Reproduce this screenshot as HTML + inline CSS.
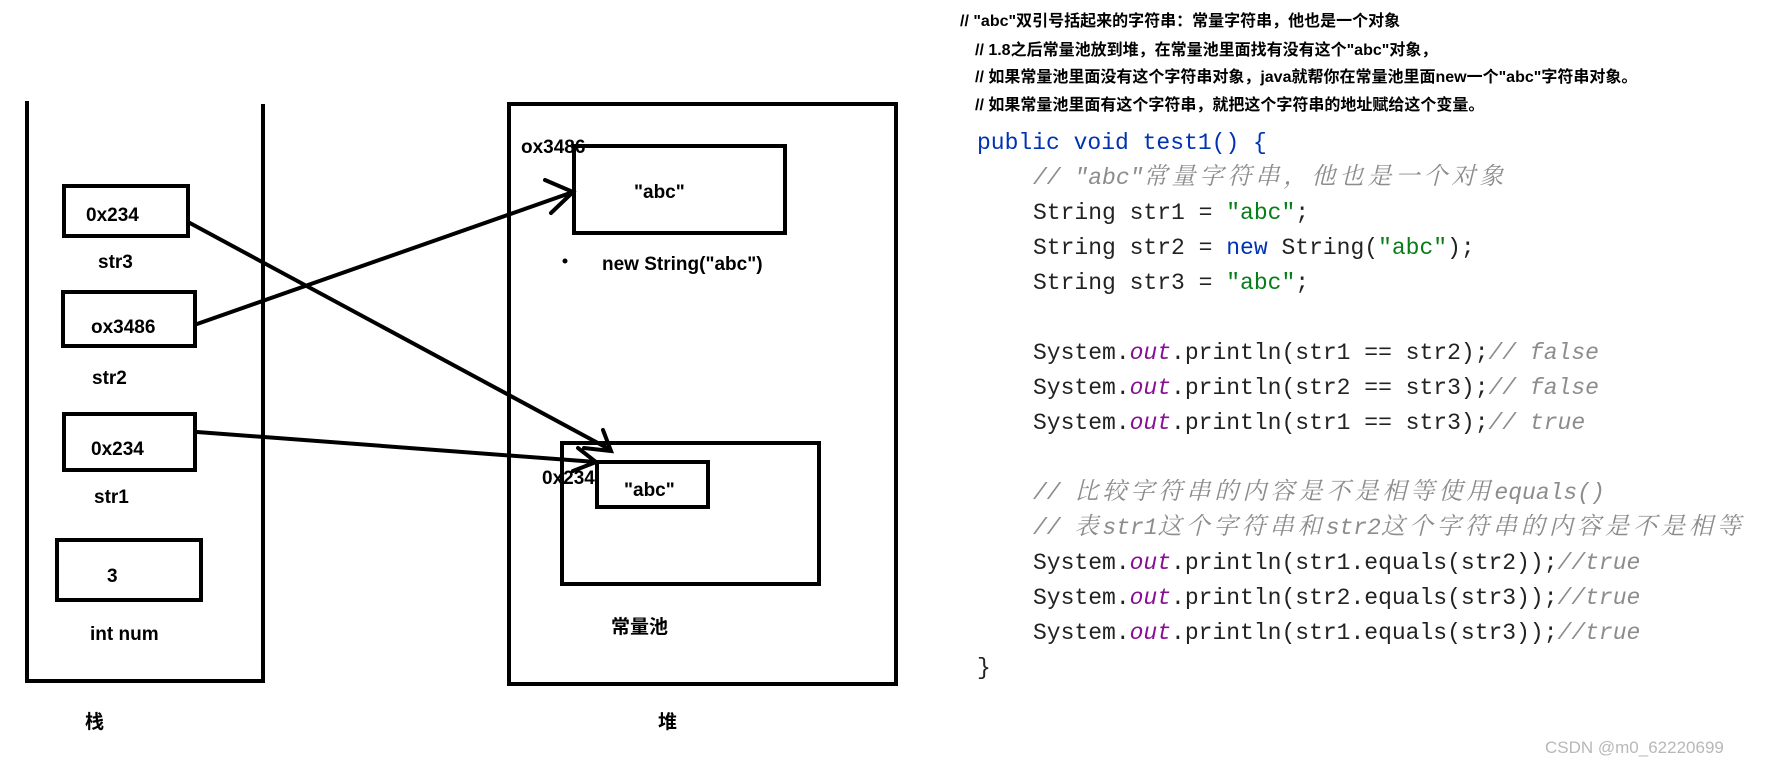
<!DOCTYPE html>
<html><head><meta charset="utf-8"><style>
html,body{margin:0;padding:0;background:#fff;}
body{width:1766px;height:763px;overflow:hidden;position:relative;}
svg{position:absolute;left:0;top:0;}
.lb{font-family:"Liberation Sans","Noto Sans CJK SC",sans-serif;font-weight:bold;font-size:19px;fill:#000;}
.cm{font-family:"Liberation Sans","Noto Sans CJK SC",sans-serif;font-weight:bold;font-size:16px;fill:#000;}
.code{font-family:"Liberation Mono","Noto Serif CJK SC",monospace;font-size:23px;fill:#222;white-space:pre;}
.kw{fill:#0033b3;} .st{fill:#067d17;} .g{fill:#8c8c8c;font-style:italic;} .o{fill:#871094;font-style:italic;}
.cj{letter-spacing:4px;font-size:24px;}
</style></head><body>
<svg width="1766" height="763" viewBox="0 0 1766 763">
<g fill="none" stroke="#000" stroke-width="4">
<polyline points="27,101 27,681 263,681 263,104"/>
<rect x="64" y="186" width="124" height="50"/>
<rect x="63" y="292" width="132" height="54"/>
<rect x="64" y="414" width="131" height="56"/>
<rect x="57" y="540" width="144" height="60"/>
<rect x="509" y="104" width="387" height="580"/>
<rect x="574" y="146" width="211" height="87"/>
<rect x="562" y="443" width="257" height="141"/>
<rect x="597" y="462" width="111" height="45"/>
<g stroke-width="4" stroke-linecap="round">
<line x1="197" y1="324" x2="573" y2="192"/>
<polyline points="545,180 573,192 551,213"/>
<line x1="188" y1="222" x2="609" y2="449"/>
<polyline points="603,430 611,451 584,448"/>
<line x1="197" y1="432" x2="596" y2="462"/>
<polyline points="578,448 596,462 573,471"/>
</g>
</g>
<g class="lb">
<text x="86" y="221">0x234</text>
<text x="98" y="268">str3</text>
<text x="91" y="333">ox3486</text>
<text x="92" y="384">str2</text>
<text x="91" y="455">0x234</text>
<text x="94" y="503">str1</text>
<text x="107" y="582">3</text>
<text x="90" y="640">int num</text>
<text x="85" y="728">栈</text>
<text x="521" y="153">ox3486</text>
<text x="634" y="198">"abc"</text>
<circle cx="565" cy="261" r="2.5" fill="#000"/>
<text x="602" y="270">new String("abc")</text>
<text x="542" y="484">0x234</text>
<text x="624" y="496">"abc"</text>
<text x="611" y="633">常量池</text>
<text x="658" y="728">堆</text>
</g>
<g class="cm">
<text x="960" y="26">// "abc"双引号括起来的字符串：常量字符串，他也是一个对象</text>
<text x="975" y="55">// 1.8之后常量池放到堆，在常量池里面找有没有这个"abc"对象，</text>
<text x="975" y="82">// 如果常量池里面没有这个字符串对象，java就帮你在常量池里面new一个"abc"字符串对象。</text>
<text x="975" y="110">// 如果常量池里面有这个字符串，就把这个字符串的地址赋给这个变量。</text>
</g>
<g class="code">
<text x="977" y="149"><tspan class="kw">public void test1() {</tspan></text>
<text x="1033" y="184"><tspan class="g">// "abc"<tspan class="cj">常量字符串，他也是一个对象</tspan></tspan></text>
<text x="1033" y="219">String str1 = <tspan class="st">"abc"</tspan>;</text>
<text x="1033" y="254">String str2 = <tspan class="kw">new</tspan> String(<tspan class="st">"abc"</tspan>);</text>
<text x="1033" y="289">String str3 = <tspan class="st">"abc"</tspan>;</text>
<text x="1033" y="359">System.<tspan class="o">out</tspan>.println(str1 == str2);<tspan class="g">// false</tspan></text>
<text x="1033" y="394">System.<tspan class="o">out</tspan>.println(str2 == str3);<tspan class="g">// false</tspan></text>
<text x="1033" y="429">System.<tspan class="o">out</tspan>.println(str1 == str3);<tspan class="g">// true</tspan></text>
<text x="1033" y="499"><tspan class="g">// <tspan class="cj">比较字符串的内容是不是相等使用</tspan>equals()</tspan></text>
<text x="1033" y="534"><tspan class="g">// <tspan class="cj">表</tspan>str1<tspan class="cj">这个字符串和</tspan>str2<tspan class="cj">这个字符串的内容是不是相等</tspan></tspan></text>
<text x="1033" y="569">System.<tspan class="o">out</tspan>.println(str1.equals(str2));<tspan class="g">//true</tspan></text>
<text x="1033" y="604">System.<tspan class="o">out</tspan>.println(str2.equals(str3));<tspan class="g">//true</tspan></text>
<text x="1033" y="639">System.<tspan class="o">out</tspan>.println(str1.equals(str3));<tspan class="g">//true</tspan></text>
<text x="977" y="674">}</text>
</g>
<text x="1545" y="753" font-family="Liberation Sans,sans-serif" font-size="17" fill="#b8b8b8">CSDN @m0_62220699</text>
</svg>
</body></html>
